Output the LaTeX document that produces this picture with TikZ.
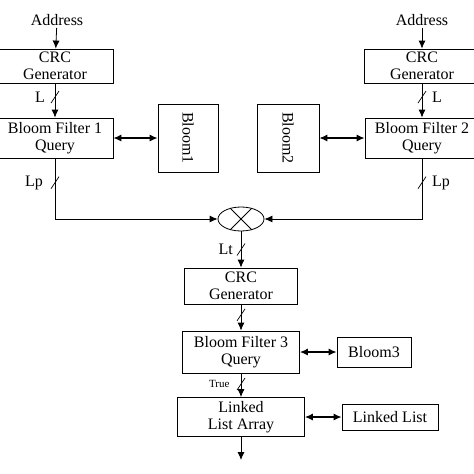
\documentclass[tikz,border=0pt]{standalone}
\usepackage{fontspec}
\setmainfont{Liberation Serif}
\usetikzlibrary{arrows.meta,shapes.geometric}
\tikzset{
  block/.style={draw, line width=0.8pt, align=center, inner sep=0pt,
    font=\fontsize{16}{17}\selectfont},
  lbl/.style={font=\fontsize{16}{17}\selectfont, inner sep=2pt},
  sig/.style={line width=0.8pt, -{Latex[length=8pt,width=7pt]}},
  both/.style={line width=1.2pt, {Latex[length=8pt,width=7pt]}-{Latex[length=8pt,width=7pt]}},
  busmark/.style={line width=0.7pt}
}
\begin{document}
\begin{tikzpicture}[x=1pt, y=-1pt]
  \useasboundingbox (0,0) rectangle (474,474);
  % left branch
  \node[lbl] (addr1) at (57,20) {Address};
  \node[block, minimum width=116pt, minimum height=34pt] (crc1) at (55,66) {CRC\\Generator};
  \node[block, minimum width=116pt, minimum height=40pt] (bf1) at (55,138) {Bloom Filter 1\\Query};
  \node[block, minimum width=60pt, minimum height=68pt] (bloom1) at (188,138) {\rotatebox{-90}{Bloom1}};
  % right branch
  \node[lbl] (addr2) at (422,20) {Address};
  \node[block, minimum width=116pt, minimum height=34pt] (crc2) at (422,66) {CRC\\Generator};
  \node[block, minimum width=114pt, minimum height=40pt] (bf2) at (422,138) {Bloom Filter 2\\Query};
  \node[block, minimum width=62pt, minimum height=68pt] (bloom2) at (288,138) {\rotatebox{-90}{Bloom2}};
  % combine
  \node[draw, ellipse, line width=0.8pt, minimum width=46pt, minimum height=24pt, inner sep=0pt] (xor) at (241,219) {};
  \draw[line width=0.8pt] (xor.45) -- (xor.225) (xor.135) -- (xor.315);
  \node[block, minimum width=113pt, minimum height=36pt] (crc3) at (241,286) {CRC\\Generator};
  \node[block, minimum width=117pt, minimum height=42pt] (bf3) at (241,352) {Bloom Filter 3\\Query};
  \node[block, minimum width=74pt, minimum height=30pt] (bloom3) at (374,352) {Bloom3};
  \node[block, minimum width=127pt, minimum height=39pt] (lla) at (241,417) {Linked\\List Array};
  \node[block, minimum width=96pt, minimum height=26pt] (ll) at (390,417) {Linked List};
  \coordinate (out) at (241,460);

  % connectors
  \draw[sig] (addr1) -- (crc1);
  \draw[sig] (crc1) -- coordinate[pos=0.4] (m1) (bf1);
  \draw[busmark] (m1) ++(-4,6) -- ++(8,-12);
  \node[lbl, left=8pt] at (m1) {L};
  \draw[both] (bf1) -- (bloom1);
  \draw[sig] (bf1.south) |- coordinate[pos=0.2] (m2) (xor.west);
  \draw[busmark] (m2) ++(-4,6) -- ++(8,-12);
  \node[lbl, left=10pt] at (m2) {Lp};

  \draw[sig] (addr2) -- (crc2);
  \draw[sig] (crc2) -- coordinate[pos=0.4] (m3) (bf2);
  \draw[busmark] (m3) ++(-4,6) -- ++(8,-12);
  \node[lbl, right=8pt] at (m3) {L};
  \draw[both] (bf2) -- (bloom2);
  \draw[sig] (bf2.south) |- coordinate[pos=0.2] (m4) (xor.east);
  \draw[busmark] (m4) ++(-4,6) -- ++(8,-12);
  \node[lbl, right=8pt] at (m4) {Lp};

  \draw[sig] (xor) -- coordinate[pos=0.5] (m5) (crc3);
  \draw[busmark] (m5) ++(-4,6) -- ++(8,-12);
  \node[lbl, left=6pt] at (m5) {Lt};
  \draw[sig] (crc3) -- coordinate[pos=0.4] (m6) (bf3);
  \draw[busmark] (m6) ++(-4,6) -- ++(8,-12);
  \draw[both] (bf3) -- (bloom3);
  \draw[sig] (bf3) -- coordinate[pos=0.45] (m7) (lla);
  \draw[busmark] (m7) ++(-4,6) -- ++(8,-12);
  \node[font=\fontsize{11}{12}\selectfont, left=8pt] at (m7) {True};
  \draw[both] (lla) -- (ll);
  \draw[sig] (lla) -- (out);
\end{tikzpicture}
\end{document}
